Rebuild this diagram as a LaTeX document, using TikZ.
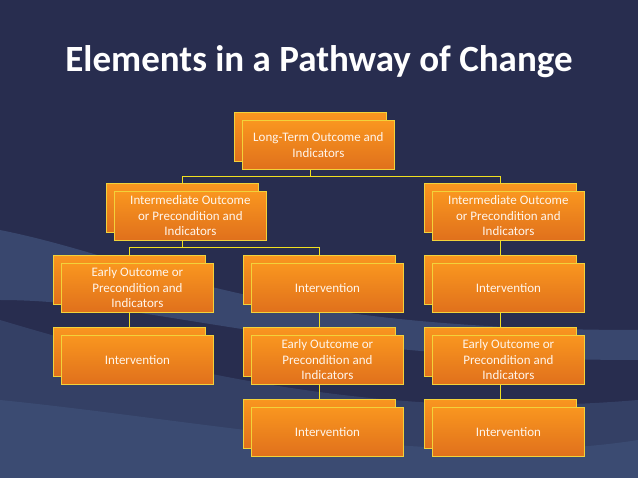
\documentclass[tikz,border=0pt]{standalone}
\usepackage{fontspec}
\setmainfont{Carlito}
\definecolor{navy}{HTML}{282D4F}
\definecolor{swoosh}{HTML}{5A7AA8}
\definecolor{boxtop}{HTML}{F9961F}
\definecolor{boxbot}{HTML}{E0701C}
\definecolor{boxline}{HTML}{F2D23A}
\definecolor{linkcol}{HTML}{F0E020}
\tikzset{
  back/.style={anchor=north west, draw=boxline, line width=0.8pt, top color=boxtop, bottom color=boxbot, minimum width=152pt, minimum height=49pt, inner sep=0pt},
  front/.style={back, text=white!92!orange, align=center, font=\fontsize{13}{15.5}\selectfont},
  link/.style={draw=linkcol, line width=1.4pt}
}
\begin{document}
\begin{tikzpicture}[x=1pt,y=-1pt]

	% background
	\fill[navy] (0,0) rectangle (638,478);
	\useasboundingbox (0,0) rectangle (638,478);
	\fill[swoosh, opacity=0.35] (0,230) .. controls (150,260) and (250,330) .. (638,330) -- (638,360) .. controls (300,360) and (150,300) .. (0,300) -- cycle;
	\fill[swoosh, opacity=0.25] (0,320) .. controls (200,380) and (400,420) .. (638,400) -- (638,478) -- (0,478) -- cycle;
	\fill[swoosh, opacity=0.2] (0,400) .. controls (200,420) and (450,470) .. (638,440) -- (638,478) -- (0,478) -- cycle;

	\draw (319,62) node (title) [text=white, font=\bfseries\fontsize{37}{40}\selectfont] {Elements in a Pathway of Change};

	% back boxes
	\draw (234,112) node (lt) [back] {};
	\draw (106,183) node (il) [back] {};
	\draw (424,183) node (ir) [back] {};
	\draw (53,255) node (el) [back] {};
	\draw (243,255) node (im) [back] {};
	\draw (424,255) node (ira) [back] {};
	\draw (53,327) node (il2) [back] {};
	\draw (243,327) node (em) [back] {};
	\draw (424,327) node (er) [back] {};
	\draw (243,399) node (im2) [back] {};
	\draw (424,399) node (ir2) [back] {};

	% connectors
	\draw[link] (lt.south) -- ++(0,15) coordinate (j1) -| (il.north);
	\draw[link] (j1) -| (ir.north);
	\draw[link] (il.south) -- ++(0,15) coordinate (j2) -| (el.north);
	\draw[link] (j2) -| (im.north);
	\draw[link] (ir.south) -- (ira.north);
	\draw[link] (el.south) -- (il2.north);
	\draw[link] (im.south) -- (em.north);
	\draw[link] (em.south) -- (im2.north);
	\draw[link] (ira.south) -- (er.north);
	\draw[link] (er.south) -- (ir2.north);

	% front boxes
	\draw (242,120) node (ltF) [front] {Long-Term Outcome and\\Indicators};
	\draw (114,191) node (ilF) [front] {Intermediate Outcome\\or Precondition and\\Indicators};
	\draw (432,191) node (irF) [front] {Intermediate Outcome\\or Precondition and\\Indicators};
	\draw (61,263) node (elF) [front] {Early Outcome or\\Precondition and\\Indicators};
	\draw (251,263) node (imF) [front] {Intervention};
	\draw (432,263) node (iraF) [front] {Intervention};
	\draw (61,335) node (il2F) [front] {Intervention};
	\draw (251,335) node (emF) [front] {Early Outcome or\\Precondition and\\Indicators};
	\draw (432,335) node (erF) [front] {Early Outcome or\\Precondition and\\Indicators};
	\draw (251,407) node (im2F) [front] {Intervention};
	\draw (432,407) node (ir2F) [front] {Intervention};

\end{tikzpicture}
\end{document}
